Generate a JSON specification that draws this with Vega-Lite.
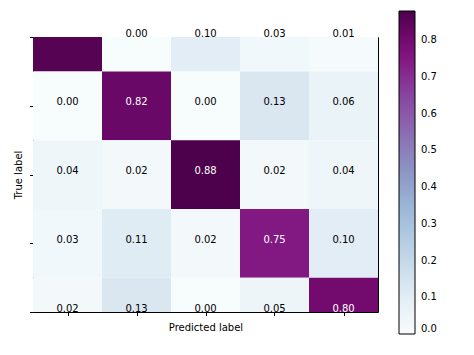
{
  "$schema": "https://vega.github.io/schema/vega-lite/v6.json",
  "width": 345,
  "height": 275,
  "autosize": {"type": "none"},
  "padding": {"left": 33, "top": 37, "right": 96, "bottom": 43},
  "config": {
    "font": "DejaVu Sans",
    "view": {"stroke": "black", "strokeWidth": 1},
    "axis": {"domain": false, "tickColor": "black", "tickSize": 3.5, "tickWidth": 1, "labels": false, "grid": false, "titleFont": "DejaVu Sans", "titleFontSize": 10, "titleFontWeight": "normal", "titleColor": "black"}
  },
  "data": {"values": [
    {"row": 0, "col": 0, "v": 0.86}, {"row": 0, "col": 1, "v": 0.00}, {"row": 0, "col": 2, "v": 0.10}, {"row": 0, "col": 3, "v": 0.03}, {"row": 0, "col": 4, "v": 0.01},
    {"row": 1, "col": 0, "v": 0.00}, {"row": 1, "col": 1, "v": 0.82}, {"row": 1, "col": 2, "v": 0.00}, {"row": 1, "col": 3, "v": 0.13}, {"row": 1, "col": 4, "v": 0.06},
    {"row": 2, "col": 0, "v": 0.04}, {"row": 2, "col": 1, "v": 0.02}, {"row": 2, "col": 2, "v": 0.88}, {"row": 2, "col": 3, "v": 0.02}, {"row": 2, "col": 4, "v": 0.04},
    {"row": 3, "col": 0, "v": 0.03}, {"row": 3, "col": 1, "v": 0.11}, {"row": 3, "col": 2, "v": 0.02}, {"row": 3, "col": 3, "v": 0.75}, {"row": 3, "col": 4, "v": 0.10},
    {"row": 4, "col": 0, "v": 0.02}, {"row": 4, "col": 1, "v": 0.13}, {"row": 4, "col": 2, "v": 0.00}, {"row": 4, "col": 3, "v": 0.05}, {"row": 4, "col": 4, "v": 0.80}
  ]},
  "encoding": {
    "x": {"field": "col", "type": "quantitative", "scale": {"domain": [-0.5, 4.5], "nice": false, "zero": false}, "axis": {"values": [0, 1, 2, 3, 4], "title": "Predicted label", "titlePadding": 6}},
    "y": {"field": "row", "type": "quantitative", "scale": {"domain": [0, 4], "reverse": true, "nice": false, "zero": false}, "axis": {"values": [0, 1, 2, 3, 4], "title": "True label", "titlePadding": 6}}
  },
  "layer": [
    {
      "mark": {"type": "rect", "width": 69, "height": 68.75, "clip": true},
      "encoding": {
        "color": {"field": "v", "type": "quantitative",
          "scale": {"domain": [0, 0.11, 0.22, 0.33, 0.44, 0.55, 0.66, 0.77, 0.88], "range": ["#f7fcfd", "#e0ecf4", "#bfd3e6", "#9ebcda", "#8c96c6", "#8c6bb1", "#88419d", "#810f7c", "#4d004b"], "interpolate": "rgb"},
          "legend": {"orient": "none", "legendX": 366, "legendY": -26, "direction": "vertical", "gradientLength": 323, "gradientThickness": 16, "title": null, "values": [0, 0.1, 0.2, 0.3, 0.4, 0.5, 0.6, 0.7, 0.8], "format": ".1f", "labelFontSize": 10, "labelColor": "black", "labelOverlap": false, "labelOffset": 6, "gradientStrokeColor": "black", "gradientStrokeWidth": 1}}
      }
    },
    {
      "mark": {"type": "text", "fontSize": 10, "baseline": "middle", "dy": -3.5},
      "encoding": {
        "text": {"field": "v", "type": "quantitative", "format": ".2f"},
        "color": {"condition": {"test": "datum.v > 0.44", "value": "white"}, "value": "black"}
      }
    }
  ]
}
